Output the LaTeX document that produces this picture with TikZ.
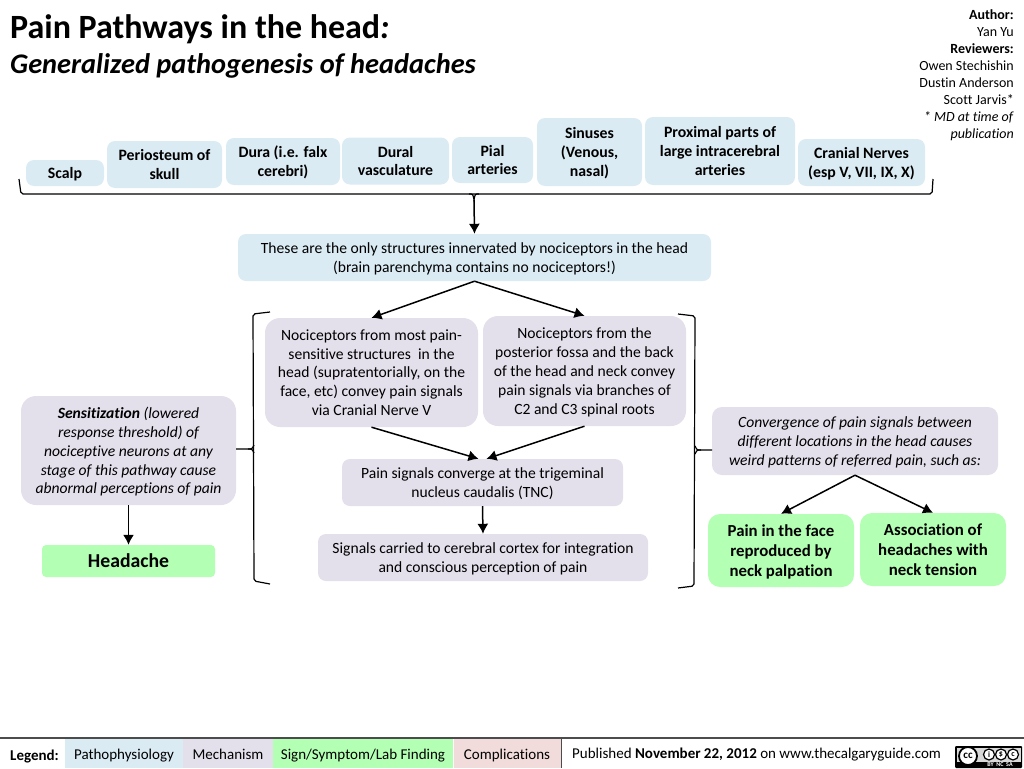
\documentclass[tikz,border=0pt]{standalone}
\usepackage{fontspec}
\setmainfont[Ligatures=NoCommon]{Carlito}
\usetikzlibrary{positioning,arrows.meta}
\definecolor{pathoblue}{HTML}{DAEBF3}
\definecolor{mechpurple}{HTML}{E3DFEB}
\definecolor{signgreen}{HTML}{B3FFB3}
\definecolor{compink}{HTML}{F2DCDB}
\tikzset{
  box/.style={align=center, inner sep=0pt, rounded corners=8pt, text depth=-1.5pt, font=\fontsize{15.6}{18.8}\selectfont},
  patho/.style={box, fill=pathoblue},
  mech/.style={box, fill=mechpurple},
  sign/.style={box, fill=signgreen},
  head/.style={patho, font=\fontsize{15.8}{18.8}\selectfont\bfseries},
  brace/.style={line width=1.2pt, rounded corners=2pt},
  arr/.style={-{Latex[length=10pt,width=11pt]}, line width=1.5pt},
  cell/.style={inner sep=0pt, minimum height=29pt, text height=14.5pt, text depth=3.5pt, font=\fontsize{15}{18}\selectfont},
}
\begin{document}
\begin{tikzpicture}[x=1pt,y=-1pt]
  \useasboundingbox (0,0) rectangle (1024,768);

  % title
  \node[anchor=west, inner sep=0pt, font=\fontsize{34}{38}\selectfont\bfseries] (title) at (10,29) {Pain Pathways in the head\textit{:}};
  \node[anchor=west, inner sep=0pt, font=\fontsize{28.4}{34}\selectfont\bfseries\itshape] (subtitle) at (10,66) {Generalized pathogenesis of headaches};
  \node[anchor=north east, inner sep=0pt, align=right, font=\fontsize{14}{17}\selectfont] (credits) at (1014,9) {\textbf{Author:}\\Yan Yu\\\textbf{Reviewers:}\\Owen Stechishin\\Dustin Anderson\\Scott Jarvis*\\\textit{* MD at time of}\\\textit{publication}};

  % structures
  \node[head, minimum width=78pt, minimum height=26pt] (scalp) at (65,173) {Scalp};
  \node[head, minimum width=115pt, minimum height=47pt] (periosteum) at (164.5,164.5) {Periosteum of\\skull};
  \node[head, minimum width=114pt, minimum height=47pt] (dura) at (283,161.5) {Dura (i.e. falx\\cerebri)};
  \node[head, minimum width=107pt, minimum height=47pt] (vasculature) at (395.5,161) {Dural\\vasculature};
  \node[head, minimum width=81pt, minimum height=46pt] (pial) at (492.5,160) {Pial\\arteries};
  \node[head, minimum width=105pt, minimum height=68pt] (sinuses) at (589.5,152) {Sinuses\\(Venous,\\nasal)};
  \node[head, minimum width=150pt, minimum height=68pt] (proximal) at (720,151) {Proximal parts of\\large intracerebral\\arteries};
  \node[head, minimum width=127pt, minimum height=47pt] (cranial) at (861.5,162.5) {Cranial Nerves\\(esp V, VII, IX, X)};

  \node[patho, minimum width=473pt, minimum height=47pt] (only) at (474.5,257.5) {These are the only structures innervated by nociceptors in the head\\(brain parenchyma contains no nociceptors!)};
  \node[mech, rounded corners=15pt, minimum width=213pt, minimum height=109pt] (trigeminal) at (371.5,372.5) {Nociceptors from most pain-\\sensitive structures~~in the\\head (supratentorially, on the\\face, etc) convey pain signals\\via Cranial Nerve V};
  \node[mech, rounded corners=15pt, minimum width=203pt, minimum height=110pt] (cervical) at (584.5,371) {Nociceptors from the\\posterior fossa and the back\\of the head and neck convey\\pain signals via branches of\\C2 and C3 spinal roots};
  \node[mech, minimum width=281pt, minimum height=47pt] (tnc) at (482.5,482.5) {Pain signals converge at the trigeminal\\nucleus caudalis (TNC)};
  \node[mech, minimum width=330pt, minimum height=47pt] (cortex) at (483,557.5) {Signals carried to cerebral cortex for integration\\and conscious perception of pain};

  \node[mech, rounded corners=15pt, minimum width=215pt, minimum height=109pt] (sensitization) at (128.5,450.5) {\itshape\textbf{Sensitization} (lowered\\\itshape response threshold) of\\\itshape nociceptive neurons at any\\\itshape stage of this pathway cause\\\itshape abnormal perceptions of pain};
  \node[sign, rounded corners=4pt, minimum width=173pt, minimum height=32pt, text depth=-4pt, font=\fontsize{19.7}{22}\selectfont\bfseries] (headache) at (128.5,561) {Headache};

  \node[mech, rounded corners=10pt, minimum width=286pt, minimum height=68pt] (convergence) at (855,441) {\itshape Convergence of pain signals between\\\itshape different locations in the head causes\\\itshape weird patterns of referred pain, such as:};
  \node[sign, rounded corners=12pt, minimum width=146pt, minimum height=73pt, font=\fontsize{16.8}{20.2}\selectfont\bfseries] (face) at (781,550.5) {Pain in the face\\reproduced by\\neck palpation};
  \node[sign, rounded corners=12pt, minimum width=146pt, minimum height=73pt, font=\fontsize{16.8}{20.2}\selectfont\bfseries] (tension) at (933,549.5) {Association of\\headaches with\\neck tension};

  % braces
  \coordinate (toptip) at (474,200);
  \coordinate (lefttip) at (236,449);
  \coordinate (righttip) at (712,450);
  \draw[brace] (19,179) -- (21,194) -- (932,194) -- (933,179);
  \draw[line width=1.2pt] (469,194) .. controls (473,194) .. (toptip) .. controls (475,194) .. (479,194);
  \draw[brace] (270,312) -- (253,314) -- (254,581) -- (270,584);
  \draw[line width=1.2pt] (lefttip) -- (248,449) .. controls (252,449) .. (254,445);
  \draw[line width=1.2pt] (248,449) .. controls (252,449) .. (254,453);
  \draw[brace] (678,314) -- (695,316) -- (694,586) -- (678,588);
  \draw[line width=1.2pt] (righttip) -- (701,450) .. controls (697,450) .. (695,446);
  \draw[line width=1.2pt] (701,450) .. controls (697,450) .. (695,454);

  % arrows
  \draw[arr] (toptip) -- (only.north);
  \draw[arr] (only.south) -- (trigeminal.north);
  \draw[arr] (only.south) -- (cervical.north);
  \draw[arr] (trigeminal.south) -- ([xshift=-4pt]tnc.north);
  \draw[arr] (cervical.south) -- ([xshift=4pt]tnc.north);
  \draw[arr] (tnc.south) -- (cortex.north);
  \draw[arr] (sensitization.south) -- (headache.north);
  \draw[arr] (convergence.south) -- (face.north);
  \draw[arr] (convergence.south) -- (tension.north);

  % legend
  \draw[line width=2pt, black!70] (0,738) -- (1024,738);
  \draw[line width=1.5pt, black!70] (561,738) -- (561,768);
  \node[anchor=west, inner sep=0pt, font=\fontsize{15}{18}\selectfont\bfseries] (legend) at (10,756) {Legend:};
  \node[cell, fill=pathoblue, minimum width=118pt] (lgpatho) at (124,753.5) {Pathophysiology};
  \node[cell, fill=mechpurple, minimum width=90pt] (lgmech) at (228,753.5) {Mechanism};
  \node[cell, fill=signgreen, minimum width=180pt] (lgsign) at (363,753.5) {Sign/Symptom/Lab Finding};
  \node[cell, fill=compink, minimum width=107pt] (lgcomp) at (507,753.5) {Complications};
  \node[anchor=west, inner sep=0pt, font=\fontsize{15}{18}\selectfont] (published) at (572,754.5) {Published \textbf{November 22, 2012} on www.thecalgaryguide.com};

  % licence badge
  \fill[black, rounded corners=1pt] (955,746) rectangle (1022,768);
  \fill[black!15] (956.5,747.5) rectangle (1020.5,762);
  \draw[line width=1.8pt, fill=white] (968,756) circle (9);
  \node[inner sep=0pt, font=\fontsize{11}{11}\selectfont\bfseries] (ccmark) at (968,755.5) {cc};
  \foreach \cx/\glyph in {989/i,1001/\$,1013/c}{
    \draw[line width=1.2pt, fill=white] (\cx,754.5) circle (5.5);
    \node[inner sep=0pt, font=\fontsize{8}{8}\selectfont\bfseries] at (\cx,754.5) {\glyph};
  }
  \node[inner sep=0pt, text=white, font=\fontsize{6}{6}\selectfont\bfseries] (ccnames) at (1000,765) {BY~~NC~~SA};
\end{tikzpicture}
\end{document}
